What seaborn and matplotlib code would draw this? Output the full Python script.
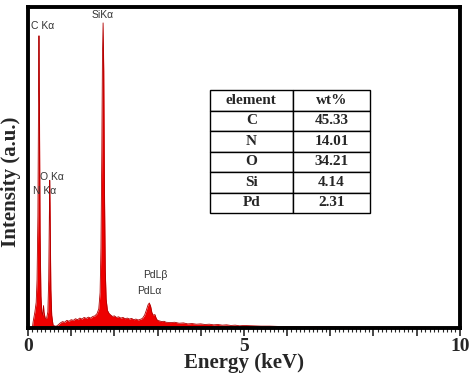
import matplotlib
matplotlib.use("Agg")
import matplotlib.pyplot as plt
from matplotlib.ticker import MultipleLocator
import seaborn as sns

# ---- data ----
energy = [0.00, 0.10, 0.12, 0.16, 0.19, 0.21, 0.23, 0.245, 0.255, 0.265, 0.28, 0.30,
          0.32, 0.34, 0.36, 0.37, 0.40, 0.43, 0.46, 0.48, 0.495, 0.505, 0.515, 0.53,
          0.55, 0.58, 0.62, 0.66, 0.70, 0.75, 0.80, 0.85, 0.90, 0.95, 1.00, 1.05,
          1.10, 1.15, 1.20, 1.25, 1.30, 1.35, 1.40, 1.45, 1.50, 1.55, 1.60, 1.64,
          1.67, 1.69, 1.71, 1.725, 1.74, 1.755, 1.77, 1.79, 1.81, 1.84, 1.88, 1.92,
          1.96, 2.00, 2.05, 2.10, 2.15, 2.20, 2.25, 2.30, 2.35, 2.40, 2.45, 2.50,
          2.55, 2.60, 2.65, 2.70, 2.74, 2.78, 2.81, 2.84, 2.87, 2.90, 2.94, 2.97,
          3.00, 3.05, 3.10, 3.15, 3.20, 3.30, 3.40, 3.50, 3.60, 3.70, 3.80, 3.90,
          4.00, 4.10, 4.20, 4.30, 4.40, 4.50, 4.60, 4.70, 4.80, 4.90, 5.00, 5.20,
          5.40, 5.60, 5.80, 6.00, 6.30, 6.60, 7.00, 7.50, 8.00, 8.50, 9.00, 9.50, 10.00]
intensity = [0.000, 0.000, 0.020, 0.050, 0.080, 0.150, 0.350, 0.720, 0.910, 0.700, 0.300, 0.100,
             0.050, 0.040, 0.070, 0.050, 0.030, 0.030, 0.050, 0.150, 0.350, 0.460, 0.330, 0.120,
             0.040, 0.010, 0.006, 0.006, 0.010, 0.016, 0.020, 0.018, 0.024, 0.021, 0.026, 0.024,
             0.029, 0.026, 0.031, 0.028, 0.033, 0.030, 0.034, 0.031, 0.036, 0.038, 0.045, 0.060,
             0.110, 0.250, 0.550, 0.850, 0.950, 0.800, 0.450, 0.180, 0.090, 0.055, 0.045, 0.040,
             0.036, 0.038, 0.033, 0.035, 0.031, 0.033, 0.029, 0.031, 0.028, 0.030, 0.026, 0.028,
             0.025, 0.027, 0.030, 0.040, 0.055, 0.072, 0.078, 0.068, 0.048, 0.040, 0.042, 0.030,
             0.024, 0.022, 0.020, 0.021, 0.018, 0.017, 0.018, 0.015, 0.016, 0.013, 0.014, 0.012,
             0.013, 0.011, 0.012, 0.010, 0.011, 0.009, 0.010, 0.008, 0.009, 0.007, 0.008, 0.007,
             0.006, 0.006, 0.005, 0.005, 0.004, 0.004, 0.004, 0.003, 0.003, 0.003, 0.003, 0.002, 0.002]

peak_labels = ["C K\u03b1", "SiK\u03b1", "O K\u03b1", "N K\u03b1", "PdL\u03b2", "PdL\u03b1"]
peak_label_x = [0.07, 1.48, 0.28, 0.12, 2.66, 2.52]
peak_label_y = [0.94, 0.975, 0.47, 0.427, 0.165, 0.115]

table_header = ["element", "wt%"]
elements = ["C", "N", "O", "Si", "Pd"]
wt_percent = ["45.33", "14.01", "34.21", "4.14", "2.31"]

xtick_positions = [0, 5, 10]
xtick_labels = ["0", "5", "10"]

# ---- figure ----
sns.set_style("white")
serif = ["Liberation Serif", "DejaVu Serif"]
fig = plt.figure(figsize=(4.74, 3.81), dpi=100)
ax = fig.add_axes([0.059, 0.139, 0.911, 0.843])

ax.fill_between(energy, intensity, 0, color="#ee0000", linewidth=0)
sns.lineplot(x=energy, y=intensity, ax=ax, color="#b00000", linewidth=0.6)

ax.set_xlim(0, 10)
ax.set_ylim(0, 1.0)

for s in ax.spines.values():
    s.set_visible(True)
    s.set_color("black")
    s.set_linewidth(2.8)

ax.set_xticks(list(range(11)))
ax.xaxis.set_minor_locator(MultipleLocator(0.1))
ax.set_xticklabels([xtick_labels[xtick_positions.index(i)] if i in xtick_positions else "" for i in range(11)])
ax.tick_params(axis="x", which="major", direction="out", length=6, width=1.2, bottom=True,
               labelsize=14, pad=1)
ax.tick_params(axis="x", which="minor", direction="out", length=3, width=0.8, bottom=True)
ax.set_yticks([])
for lbl in ax.get_xticklabels():
    lbl.set_family(serif)
    lbl.set_fontweight("bold")

ax.set_xlabel("Energy (keV)", fontsize=15, fontweight="bold", family=serif, labelpad=-1)
ax.set_ylabel("Intensity (a.u.)", fontsize=15, fontweight="bold", family=serif)
ax.yaxis.set_label_coords(-0.016, 0.455)

for t, x, y in zip(peak_labels, peak_label_x, peak_label_y):
    ax.text(x, y, t, fontsize=7.5, color="#333333", ha="left", va="center",
            family=["Liberation Sans", "DejaVu Sans"])

cell_text = [[e, w] for e, w in zip(elements, wt_percent)]
tbl = ax.table(cellText=cell_text, colLabels=table_header, cellLoc="center",
               bbox=[0.421, 0.358, 0.371, 0.383], colWidths=[0.52, 0.48])
tbl.auto_set_font_size(False)
for (r, c), cell in tbl.get_celld().items():
    cell.set_linewidth(1.0)
    cell.set_edgecolor("black")
    cell.get_text().set_fontsize(11)
    cell.get_text().set_fontweight("bold")
    cell.get_text().set_family(serif)

fig.savefig("out.png", dpi=100)
